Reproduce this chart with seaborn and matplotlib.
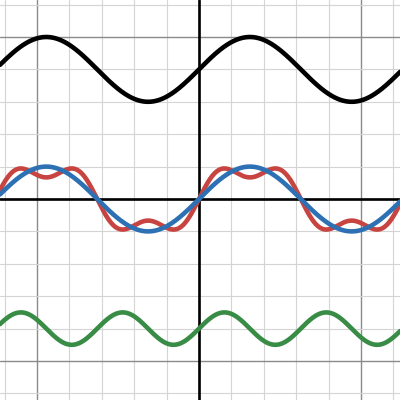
import numpy as np
import pandas as pd
import seaborn as sns
import matplotlib.pyplot as plt
from matplotlib.ticker import MultipleLocator

# curve parameters: y = offset + sum(amp * sin(freq * x))
names = ["black", "red", "blue", "green"]
colors = ["#000000", "#c74440", "#2d70b3", "#388c46"]
amps = [[1.0], [1.0, 1 / 3], [1.0], [0.5]]
freqs = [[1], [1, 3], [1], [2]]
offsets = [4.0, 0.0, 0.0, -4.0]
draw_order = ["black", "red", "blue", "green"]

x = np.linspace(-6.5, 6.5, 1200)
rows = []
for name, a, f, off in zip(names, amps, freqs, offsets):
    y = off + sum(ai * np.sin(fi * x) for ai, fi in zip(a, f))
    rows.append(pd.DataFrame({"x": x, "y": y, "curve": name}))
df = pd.concat(rows)

sns.set_style("white")
fig = plt.figure(figsize=(4, 4), dpi=100)
ax = fig.add_axes([0, 0, 1, 1])

unit = 32.4
ax.set_xlim(-199 / unit, 201 / unit)
ax.set_ylim(-201 / unit, 199 / unit)

ax.xaxis.set_major_locator(MultipleLocator(5))
ax.yaxis.set_major_locator(MultipleLocator(5))
ax.xaxis.set_minor_locator(MultipleLocator(1))
ax.yaxis.set_minor_locator(MultipleLocator(1))
ax.grid(which="minor", color="#d4d4d4", lw=0.8)
ax.grid(which="major", color="#8a8a8a", lw=1.0)
ax.tick_params(which="both", length=0, labelbottom=False, labelleft=False)
for s in ax.spines.values():
    s.set_visible(False)
ax.axhline(0, color="black", lw=1.9, zorder=2)
ax.axvline(0, color="black", lw=1.9, zorder=2)

sns.lineplot(data=df, x="x", y="y", hue="curve", hue_order=draw_order,
             palette=dict(zip(names, colors)), lw=3.3, legend=False,
             sort=False, estimator=None, ax=ax, zorder=3)
ax.set_xlabel("")
ax.set_ylabel("")

fig.savefig("out.png", dpi=100)
